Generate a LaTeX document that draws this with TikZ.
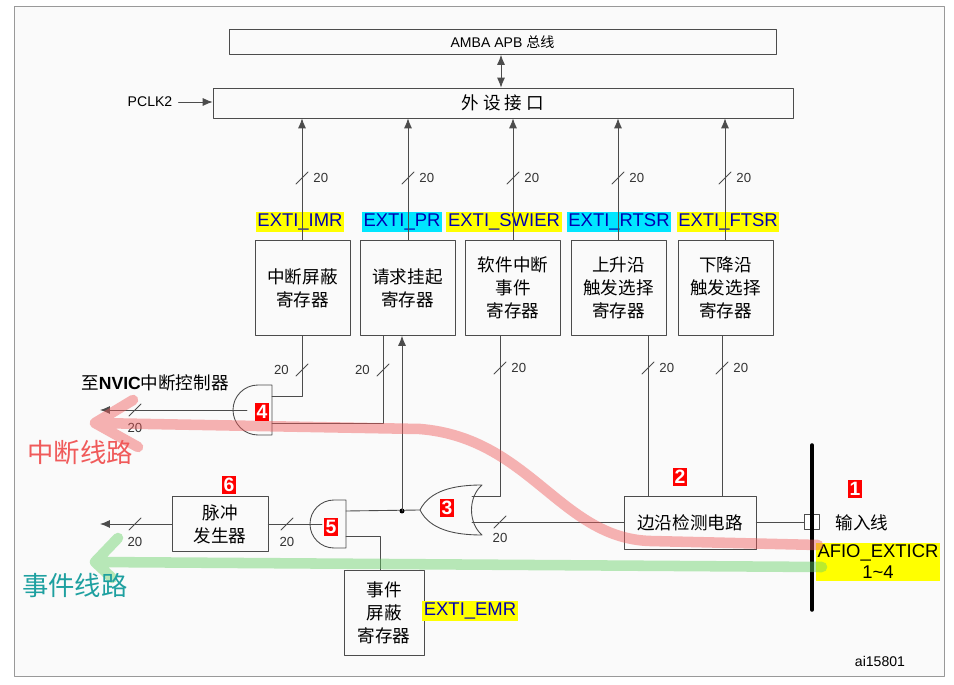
\documentclass[tikz,border=0pt]{standalone}
\usepackage{fontspec}
\setmainfont{Liberation Sans}
\newfontfamily\cjk{Noto Sans CJK SC}
\usetikzlibrary{arrows.meta,calc}
\definecolor{hlyellow}{RGB}{255,255,0}
\definecolor{hlcyan}{RGB}{0,230,255}
\definecolor{intred}{RGB}{240,90,90}
\definecolor{evtteal}{RGB}{30,160,160}
\tikzset{
  reg/.style={draw=black!70, minimum width=1.9cm, minimum height=1.9cm, align=center, font=\cjk\fontsize{10}{13}\selectfont},
  tag/.style={inner sep=1pt, font=\fontsize{10.5}{11}\selectfont, text=blue!70!black},
  badge/.style={fill=red, text=white, inner sep=1.2pt, font=\bfseries\fontsize{11}{11}\selectfont},
  wire/.style={draw=black!70, line width=0.5pt},
  bus/.style={wire, -{Latex[length=2mm,width=1.6mm]}},
  buslbl/.style={font=\fontsize{7.5}{8}\selectfont, text=black!80},
}
% marque de largeur de bus
\newcommand{\buswidth}[3]{%
  \draw[wire] ($(#1)+(-6,6)$) -- ($(#1)+(6,-6)$);
  \node[buslbl, #2] at (#1) {#3};}
\begin{document}
\begin{tikzpicture}[x=0.02cm, y=-0.02cm, line join=round, line cap=round]

    % cadre
    \useasboundingbox (0,0) rectangle (954,685);
    \draw[black!40, fill=black!2] (14,6) rectangle (944,676);

    % bus et interface
    \node[draw=black!70, minimum width=10.94cm, minimum height=0.5cm, font=\fontsize{8}{9}\selectfont] (amba) at (502.5,42) {AMBA APB {\cjk 总线}};
    \node[draw=black!70, minimum width=11.6cm, minimum height=0.6cm, font=\cjk\fontsize{10}{10}\selectfont] (periph) at (503,103) {外 设 接 口};
    \draw[wire, {Latex[length=2mm,width=1.6mm]}-{Latex[length=2mm,width=1.6mm]}] (amba.south -| 501,0) -- (periph.north -| 501,0);
    \node[font=\fontsize{8}{9}\selectfont] (pclk) at (150,102) {PCLK2};
    \draw[bus] (pclk.east) -- (periph.west |- pclk.east);

    % registres
    \node[reg] (imr) at (302.5,288) {中断屏蔽\\寄存器};
    \node[reg] (pr) at (407.5,288) {请求挂起\\寄存器};
    \node[reg] (swier) at (513,288) {软件中断\\事件\\寄存器};
    \node[reg] (rtsr) at (618.5,288) {上升沿\\触发选择\\寄存器};
    \node[reg] (ftsr) at (725.5,288) {下降沿\\触发选择\\寄存器};

    \node[tag, fill=hlyellow] (timr) at (300,222) {EXTI\_IMR};
    \node[tag, fill=hlcyan] (tpr) at (402,222) {EXTI\_PR};
    \node[tag, fill=hlyellow] (tswier) at (504,222) {EXTI\_SWIER};
    \node[tag, fill=hlcyan] (trtsr) at (619,222) {EXTI\_RTSR};
    \node[tag, fill=hlyellow] (tftsr) at (728,222) {EXTI\_FTSR};

    \foreach \r/\x in {imr/302, pr/408, swier/513, rtsr/618, ftsr/725} {
        \draw[bus] (\r.north -| \x,0) -- (periph.south -| \x,0);
        \buswidth{\x,178}{right=3pt}{20}
    }

    % portes logiques
    \coordinate (g4) at (272,410);
    \draw[wire] (272,385) -- (258,385) arc[start angle=-90, end angle=-270, radius=25] -- (272,435) -- cycle;
    \coordinate (g5) at (346,524);
    \draw[wire] (346,500) -- (334,500) arc[start angle=-90, end angle=-270, radius=24] -- (346,548) -- cycle;
    \coordinate (g3) at (420,510);
    \draw[wire] (420,510) .. controls (430,490) and (455,485) .. (482,485)
        .. controls (468,497) and (468,523) .. (482,535)
        .. controls (455,535) and (430,530) .. (420,510);

    % circuit de détection
    \node[draw=black!70, minimum width=2.64cm, minimum height=1.06cm, font=\cjk\fontsize{10}{10}\selectfont] (edge) at (690,523) {边沿检测电路};
    \node[draw=black!70, fill=white, minimum size=0.3cm, inner sep=0pt] (pin) at (812,522) {};
    \draw[line width=2pt] (812,445) -- (812,610);
    \node[font=\cjk\fontsize{10}{10}\selectfont] (inlbl) at (862,523) {输入线};
    \node[inner sep=1pt, fill=hlyellow, font=\fontsize{10.5}{12}\selectfont, align=center] (afio) at (878,562) {AFIO\_EXTICR\\1\textasciitilde 4};

    \node[reg, minimum width=1.6cm, minimum height=1.7cm] (emr) at (384,613) {事件\\屏蔽\\寄存器};
    \node[tag, fill=hlyellow] (temr) at (470,611) {EXTI\_EMR};
    \node[reg, minimum width=1.92cm, minimum height=1.1cm] (pulse) at (220,524) {脉冲\\发生器};

    % liaisons
    \draw[wire] (imr.south -| 302,0) |- (272,396);
    \buswidth{302,370}{left=4pt}{20}
    \draw[wire] (pr.south -| 383,0) |- (272,423);
    \buswidth{383,370}{left=4pt}{20}
    \draw[wire] (swier.south -| 500,0) |- (472,496);
    \buswidth{500,368}{right=3pt}{20}
    \draw[wire] (rtsr.south -| 648,0) -- (edge.north -| 648,0);
    \buswidth{648,368}{right=3pt}{20}
    \draw[wire] (ftsr.south -| 722,0) -- (edge.north -| 722,0);
    \buswidth{722,368}{right=3pt}{20}
    \draw[wire] (edge.west |- 0,522) -- (472,522);
    \buswidth{500,522}{below=3pt}{20}
    \draw[wire] (edge.east |- pin.west) -- (pin.west);
    \draw[wire] (g3) -- (346,511);
    \fill (402,511) circle[radius=2.5];
    \draw[bus] (402,511) -- (pr.south -| 402,0);
    \draw[wire] (emr.north -| 380,0) |- (346,536);
    \draw[wire] ($(g5)+(-24,0)$) -- (pulse.east |- g5);
    \buswidth{287,524}{below=4pt}{20}
    \draw[bus] (pulse.west |- g5) -- (100,524);
    \buswidth{135,524}{below=4pt}{20}
    \draw[bus] ($(g4)+(-25,0)$) -- (100,410);
    \buswidth{135,410}{below=4pt}{20}
    \node[font=\cjk\fontsize{10}{10}\selectfont] (nvic) at (155,383) {至{\fontspec{Liberation Sans}\bfseries NVIC}中断控制器};

    % chemins
    \draw[intred, opacity=0.45, line width=6pt] (818,545) -- (650,541) .. controls (560,538) and (530,438) .. (420,429) -- (95,423) -- (133,400) (95,423) -- (138,447);
    \draw[green!70!black!60, opacity=0.45, line width=6pt] (822,567) -- (95,562) -- (118,538) (95,562) -- (112,578);
    \node[text=intred, font=\cjk\fontsize{15}{16}\selectfont] (lint) at (80,453) {中断线路};
    \node[text=evtteal, font=\cjk\fontsize{15}{16}\selectfont] (levt) at (75,586) {事件线路};

    % numéros
    \node[badge] (n1) at (855,489) {1};
    \node[badge] (n2) at (680,477) {2};
    \node[badge] (n3) at (447,508) {3};
    \node[badge] (n4) at (262,412) {4};
    \node[badge] (n5) at (331,527) {5};
    \node[badge] (n6) at (229,485) {6};

    \node[font=\fontsize{8}{9}\selectfont] (ref) at (880,661) {ai15801};
\end{tikzpicture}
\end{document}
